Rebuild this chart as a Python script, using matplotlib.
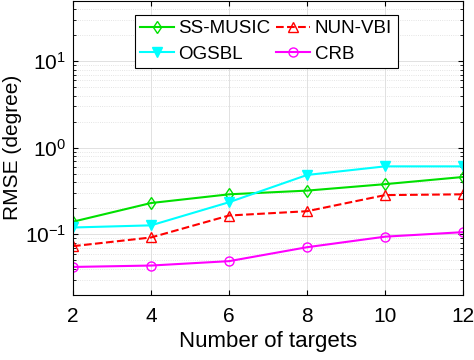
import numpy as np
import matplotlib.pyplot as plt
from matplotlib.ticker import LogLocator, NullFormatter

plt.rcParams['font.family'] = ['Liberation Sans', 'DejaVu Sans']

# data
targets = [2, 4, 6, 8, 10, 12]
ss_music = [0.14, 0.23, 0.29, 0.32, 0.38, 0.46]
nun_vbi = [0.073, 0.092, 0.165, 0.185, 0.284, 0.29]
ogsbl = [0.12, 0.127, 0.235, 0.485, 0.61, 0.61]
crb = [0.042, 0.0436, 0.049, 0.071, 0.094, 0.106]

fig = plt.figure(figsize=(4.74, 3.6), dpi=100)
ax = fig.add_axes([0.154, 0.181, 0.823, 0.817])

ax.semilogy(targets, ss_music, '-d', color='#00e000', lw=1.5, ms=6.5, mfc='none', label='SS-MUSIC')
ax.semilogy(targets, nun_vbi, '--^', color='#ff0000', lw=1.5, ms=7, mfc='none', label='NUN-VBI')
ax.semilogy(targets, ogsbl, '-v', color='#00ffff', lw=1.5, ms=7, mfc='#00ffff', label='OGSBL')
ax.semilogy(targets, crb, '-o', color='#ff00ff', lw=1.5, ms=6.5, mfc='none', label='CRB')

ax.set_xlim(2, 12)
ax.set_ylim(0.02, 50)
ax.set_xticks(targets)
ax.yaxis.set_major_locator(LogLocator(base=10, numticks=10))
ax.yaxis.set_minor_locator(LogLocator(base=10, subs=np.arange(2, 10), numticks=20))
ax.yaxis.set_minor_formatter(NullFormatter())

ax.grid(True, which='major', color='#dcdcdc', lw=0.6)
ax.grid(True, which='minor', color='#dcdcdc', lw=0.6, ls=':')
ax.tick_params(which='both', direction='in', top=True, right=True, labelsize=15)
ax.tick_params(axis='x', pad=9)
ax.tick_params(axis='y', pad=5)
for s in ax.spines.values():
    s.set_linewidth(0.8)

ax.set_xlabel('Number of targets', fontsize=16, labelpad=3)
ax.set_ylabel('RMSE (degree)', fontsize=15, labelpad=2)

# legend: row-major order like MATLAB
handles, labels = ax.get_legend_handles_labels()
order = [0, 2, 1, 3]
leg = ax.legend([handles[i] for i in order], [labels[i] for i in order],
                ncol=2, loc='upper center', bbox_to_anchor=(0.495, 0.985),
                fontsize=13.5, fancybox=False, edgecolor='black', framealpha=1,
                handlelength=1.8, handletextpad=0.25, columnspacing=0.3,
                borderpad=0.3, labelspacing=0.45)
leg.get_frame().set_linewidth(0.8)

fig.savefig('out.png', dpi=100)
